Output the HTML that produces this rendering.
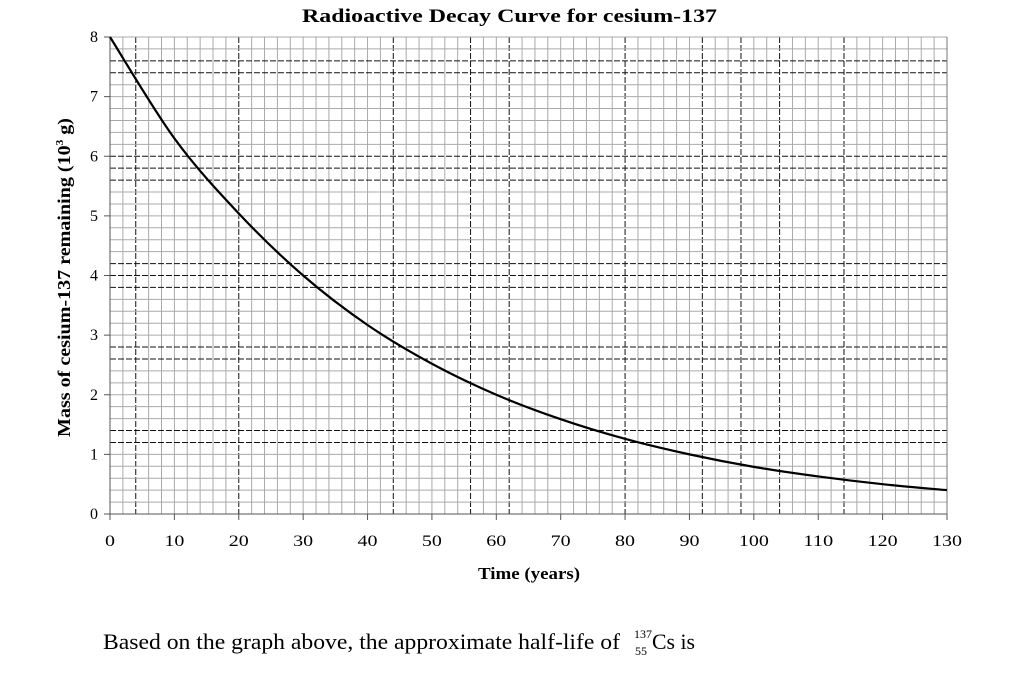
<!DOCTYPE html>
<html><head><meta charset="utf-8"><style>
body{margin:0;background:#fff;width:1024px;height:694px;overflow:hidden;font-family:"Liberation Serif",serif}
</style></head><body>
<svg width="1024" height="694" id="chart">
<text x="302" y="22" font-size="19" font-weight="bold" textLength="415" lengthAdjust="spacingAndGlyphs" font-family="Liberation Serif">Radioactive Decay Curve for cesium-137</text>
<g id="grid"></g>
<g id="ticks"></g>
<path id="curve" fill="none" stroke="#000" stroke-width="2.2"/>
<text x="478" y="579" font-size="17" font-weight="bold" textLength="102" lengthAdjust="spacingAndGlyphs">Time (years)</text>
<text transform="translate(70,437) rotate(-90)" font-size="18" font-weight="bold" textLength="319" lengthAdjust="spacingAndGlyphs">Mass of cesium-137 remaining  (10<tspan font-size="10" dy="-7">3</tspan><tspan dy="7"> g)</tspan></text>
<text x="103" y="649" font-size="22" textLength="517" lengthAdjust="spacingAndGlyphs">Based on the graph above, the approximate half-life of</text>
<text x="634" y="638" font-size="12">137</text>
<text x="635" y="655" font-size="12">55</text>
<text x="652" y="649" font-size="22" textLength="43" lengthAdjust="spacingAndGlyphs">Cs is</text>
</svg>
<script>
const times=[0,10,20,30,40,50,60,70,80,90,100,110,120,130];
const masses=[8,6.3,5.04,4,3.17,2.52,2,1.59,1.26,1.0,0.79,0.63,0.5,0.4];
const xTicks=[0,10,20,30,40,50,60,70,80,90,100,110,120,130];
const yTicks=[0,1,2,3,4,5,6,7,8];
const X0=110,X1=947,Y0=514,Y1=37;
const sx=t=>X0+(t/130)*(X1-X0);
const sy=v=>Y0-(v/8)*(Y0-Y1);
const NS="http://www.w3.org/2000/svg";
const grid=document.getElementById('grid'),ticks=document.getElementById('ticks');
function line(p,x1,y1,x2,y2,c,w,d){const l=document.createElementNS(NS,'line');l.setAttribute('x1',x1);l.setAttribute('y1',y1);l.setAttribute('x2',x2);l.setAttribute('y2',y2);l.setAttribute('stroke',c);l.setAttribute('stroke-width',w);if(d)l.setAttribute('stroke-dasharray',d);


p.appendChild(l);}
const darkX=[4,20,44,56,62,80,92,98,104,114];
const darkY=[7.6,7.4,6.0,5.8,5.6,4.2,4.0,3.8,2.8,2.6,1.4,1.2];
for(let t=0;t<=130;t+=2){const dk=darkX.includes(t);line(grid,sx(t),Y1,sx(t),Y0,dk?'#111':'#aaa',1,dk?'6,2':null);}
for(let i=0;i<=40;i++){const v=i*0.2;const dk=darkY.some(d=>Math.abs(d-v)<1e-6);line(grid,X0,sy(v),X1,sy(v),dk?'#111':'#aaa',1,dk?'6,2':null);}
line(grid,X0,Y0,X1,Y0,'#555',1);line(grid,X0,Y1,X0,Y0,'#555',1);line(grid,X1,Y1,X1,Y0,'#777',1);
xTicks.forEach(t=>{line(ticks,sx(t),Y0,sx(t),Y0+6,'#555',1);const tx=document.createElementNS(NS,'text');const s=String(t);tx.setAttribute('x',sx(t)-s.length*5);tx.setAttribute('y',546);tx.setAttribute('font-size','16');tx.setAttribute('textLength',s.length*10);tx.setAttribute('lengthAdjust','spacingAndGlyphs');tx.textContent=s;


ticks.appendChild(tx);});
yTicks.forEach(v=>{line(ticks,X0-6,sy(v),X0,sy(v),'#555',1);const tx=document.createElementNS(NS,'text');tx.setAttribute('x',98);tx.setAttribute('y',sy(v)+5);tx.setAttribute('text-anchor','end');tx.setAttribute('font-size','16');tx.textContent=v;


ticks.appendChild(tx);});
let pts=times.map((t,i)=>[sx(t),sy(masses[i])]);
let d='M'+pts[0][0]+','+pts[0][1];
for(let i=0;i<pts.length-1;i++){const p0=pts[Math.max(0,i-1)],p1=pts[i],p2=pts[i+1],p3=pts[Math.min(pts.length-1,i+2)];
d+=' C'+(p1[0]+(p2[0]-p0[0])/6)+','+(p1[1]+(p2[1]-p0[1])/6)+' '+(p2[0]-(p3[0]-p1[0])/6)+','+(p2[1]-(p3[1]-p1[1])/6)+' '+p2[0]+','+p2[1];}
document.getElementById('curve').setAttribute('d',d);
</script>
</body></html>
